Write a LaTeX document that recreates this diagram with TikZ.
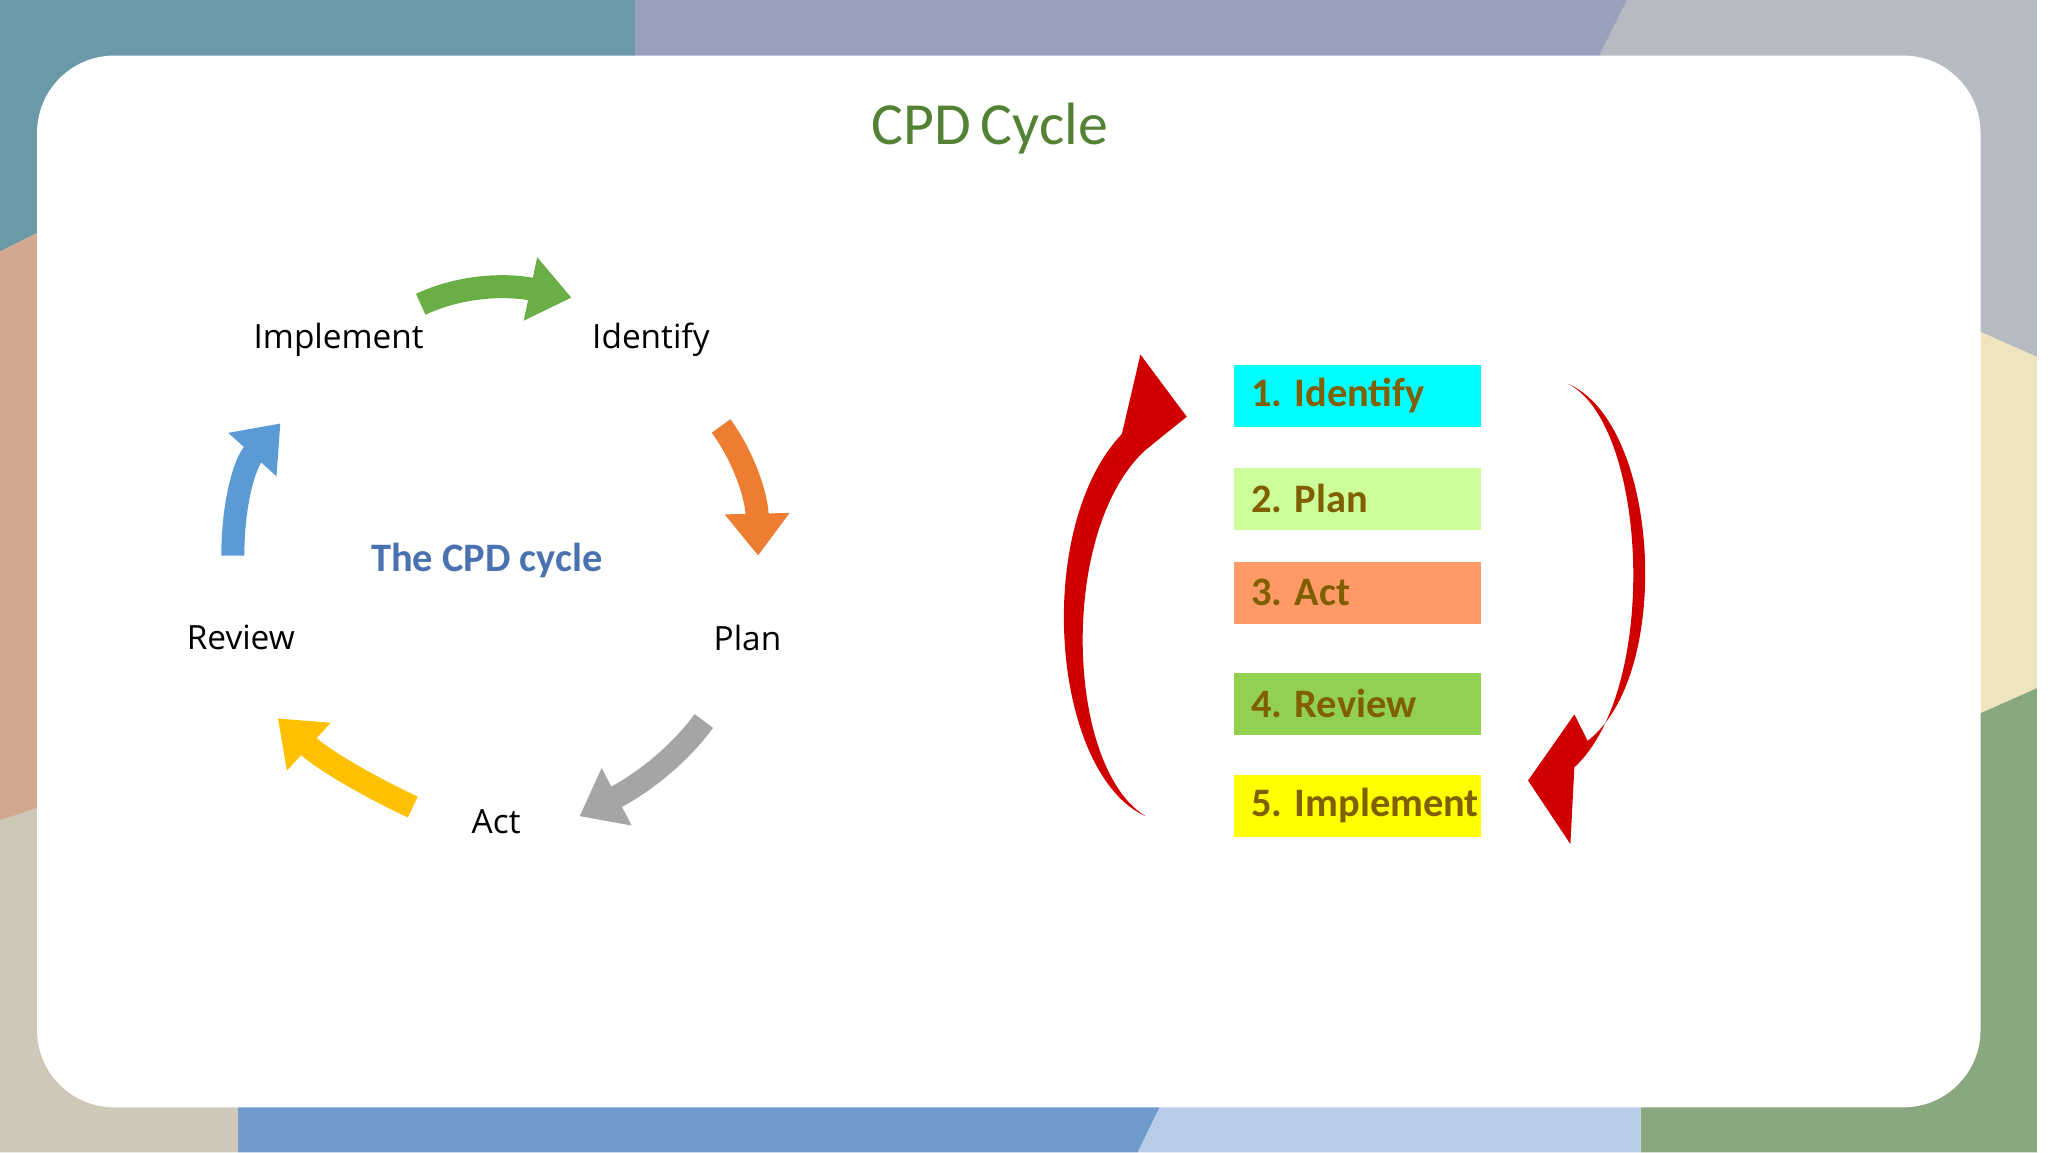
\documentclass[tikz,border=0pt]{standalone}
\usepackage{fontspec}
\setmainfont{Open Sans}
\newfontfamily\carl{Carlito}
\usetikzlibrary{arrows.meta}
\definecolor{bgteal}{HTML}{6A9AA8}
\definecolor{bgblue}{HTML}{98A2BC}
\definecolor{bggrey}{HTML}{B8BAC2}
\definecolor{bgbeige}{HTML}{EEE4BE}
\definecolor{bggreen}{HTML}{8AA880}
\definecolor{bgbot}{HTML}{6E9ACC}
\definecolor{bgbot2}{HTML}{B8CCE8}
\definecolor{bgpeach}{HTML}{D4A890}
\definecolor{bgstone}{HTML}{CEC8B8}
\definecolor{titlegreen}{HTML}{548235}
\definecolor{cycblue}{HTML}{4A72B0}
\definecolor{agreen}{HTML}{6AAF45}
\definecolor{aorange}{HTML}{ED7D31}
\definecolor{agrey}{HTML}{A5A5A5}
\definecolor{ayellow}{HTML}{FFC000}
\definecolor{ablue}{HTML}{5B9BD5}
\definecolor{btext}{HTML}{7F5F00}
\definecolor{c1}{HTML}{00FFFF}
\definecolor{c2}{HTML}{CCFF99}
\definecolor{c3}{HTML}{FF9966}
\definecolor{c4}{HTML}{92D050}
\definecolor{c5}{HTML}{FFFF00}
\definecolor{ared}{HTML}{D00000}
\begin{document}
\begin{tikzpicture}[x=0.013230cm,y=-0.013230cm,
  cyc/.style={line width=0.23cm,-{Triangle[length=0.42cm,width=0.62cm]}},
  lbl/.style={font=\fontsize{9.5}{11}\selectfont},
  box/.style={minimum width=2.47cm,minimum height=0.62cm,inner sep=0pt,anchor=north west}]
\useasboundingbox (0,0) rectangle (1548,871);
% background patches
\fill[white] (0,0) rectangle (1548,871);
\fill[bgteal] (0,0) -- (480,0) -- (480,160) -- (0,190) -- cycle;
\fill[bgblue] (480,0) -- (1230,0) -- (1200,60) -- (480,60) -- cycle;
\fill[bggrey] (1230,0) -- (1540,0) -- (1540,270) -- (1450,230) -- (1200,60) -- cycle;
\fill[bgbeige] (1450,230) -- (1540,270) -- (1540,520) -- (1450,560) -- cycle;
\fill[bggreen] (1450,560) -- (1540,520) -- (1540,871) -- (1240,871) -- (1240,830) -- cycle;
\fill[bgbot] (180,830) -- (880,830) -- (860,871) -- (180,871) -- cycle;
\fill[bgbot2] (880,830) -- (1240,830) -- (1240,871) -- (860,871) -- cycle;
\fill[bgpeach] (0,190) -- (60,160) -- (60,620) -- (0,620) -- cycle;
\fill[bgstone] (0,620) -- (60,600) -- (180,830) -- (180,871) -- (0,871) -- cycle;
\fill[white] (1540,0) rectangle (1548,871);
\fill[white,rounded corners=22] (28,42) rectangle (1497,837);
% title
\node[font=\carl\fontsize{17}{20}\selectfont,text=titlegreen] (title) at (748,97) {CPD\,Cycle};
% left cycle
\node[lbl] (imp) at (256,257) {Implement};
\node[lbl] (ide) at (492,257) {Identify};
\node[lbl] (pla) at (565,482) {Plan};
\node[lbl] (act) at (375,621) {Act};
\node[lbl] (rev) at (182,482) {Review};
\node[font=\carl\bfseries\fontsize{11.5}{13}\selectfont,text=cycblue] (cyc) at (368,424) {The CPD cycle};
\draw[cyc,agreen] (318,230) .. controls (350,215) and (385,215) .. (432,225);
\draw[cyc,aorange] (545,322) .. controls (562,345) and (572,375) .. (573,420);
\draw[cyc,agrey] (532,545) .. controls (510,575) and (480,595) .. (438,617);
\draw[cyc,ayellow] (312,610) .. controls (280,595) and (245,575) .. (210,543);
\draw[cyc,ablue] (176,420) .. controls (176,380) and (185,350) .. (212,320);
% boxes
\node[box,fill=c1] (b1) at (932,275) {};
\node[box,fill=c2] (b2) at (932,353) {};
\node[box,fill=c3] (b3) at (932,424) {};
\node[box,fill=c4] (b4) at (932,508) {};
\node[box,fill=c5] (b5) at (932,585) {};
\foreach \b/\t in {b1/1. Identify,b2/2. Plan,b3/3. Act,b4/4. Review,b5/5. Implement}
  \node[anchor=west,text=btext,font=\carl\bfseries\fontsize{11.5}{13}\selectfont,inner sep=0pt] at ([xshift=5]\b.west) {\t};
% red arrows
\fill[ared] (866,617) .. controls (795,585) and (780,400) .. (848,328)
  -- (862,268) -- (897,315) -- (866,340)
  .. controls (800,400) and (805,580) .. (866,617) -- cycle;
\fill[ared] (1185,290) .. controls (1255,320) and (1265,510) .. (1200,560)
  -- (1190,540) -- (1155,590) -- (1187,638) -- (1190,580)
  .. controls (1255,520) and (1245,320) .. (1185,290) -- cycle;
\end{tikzpicture}
\end{document}
